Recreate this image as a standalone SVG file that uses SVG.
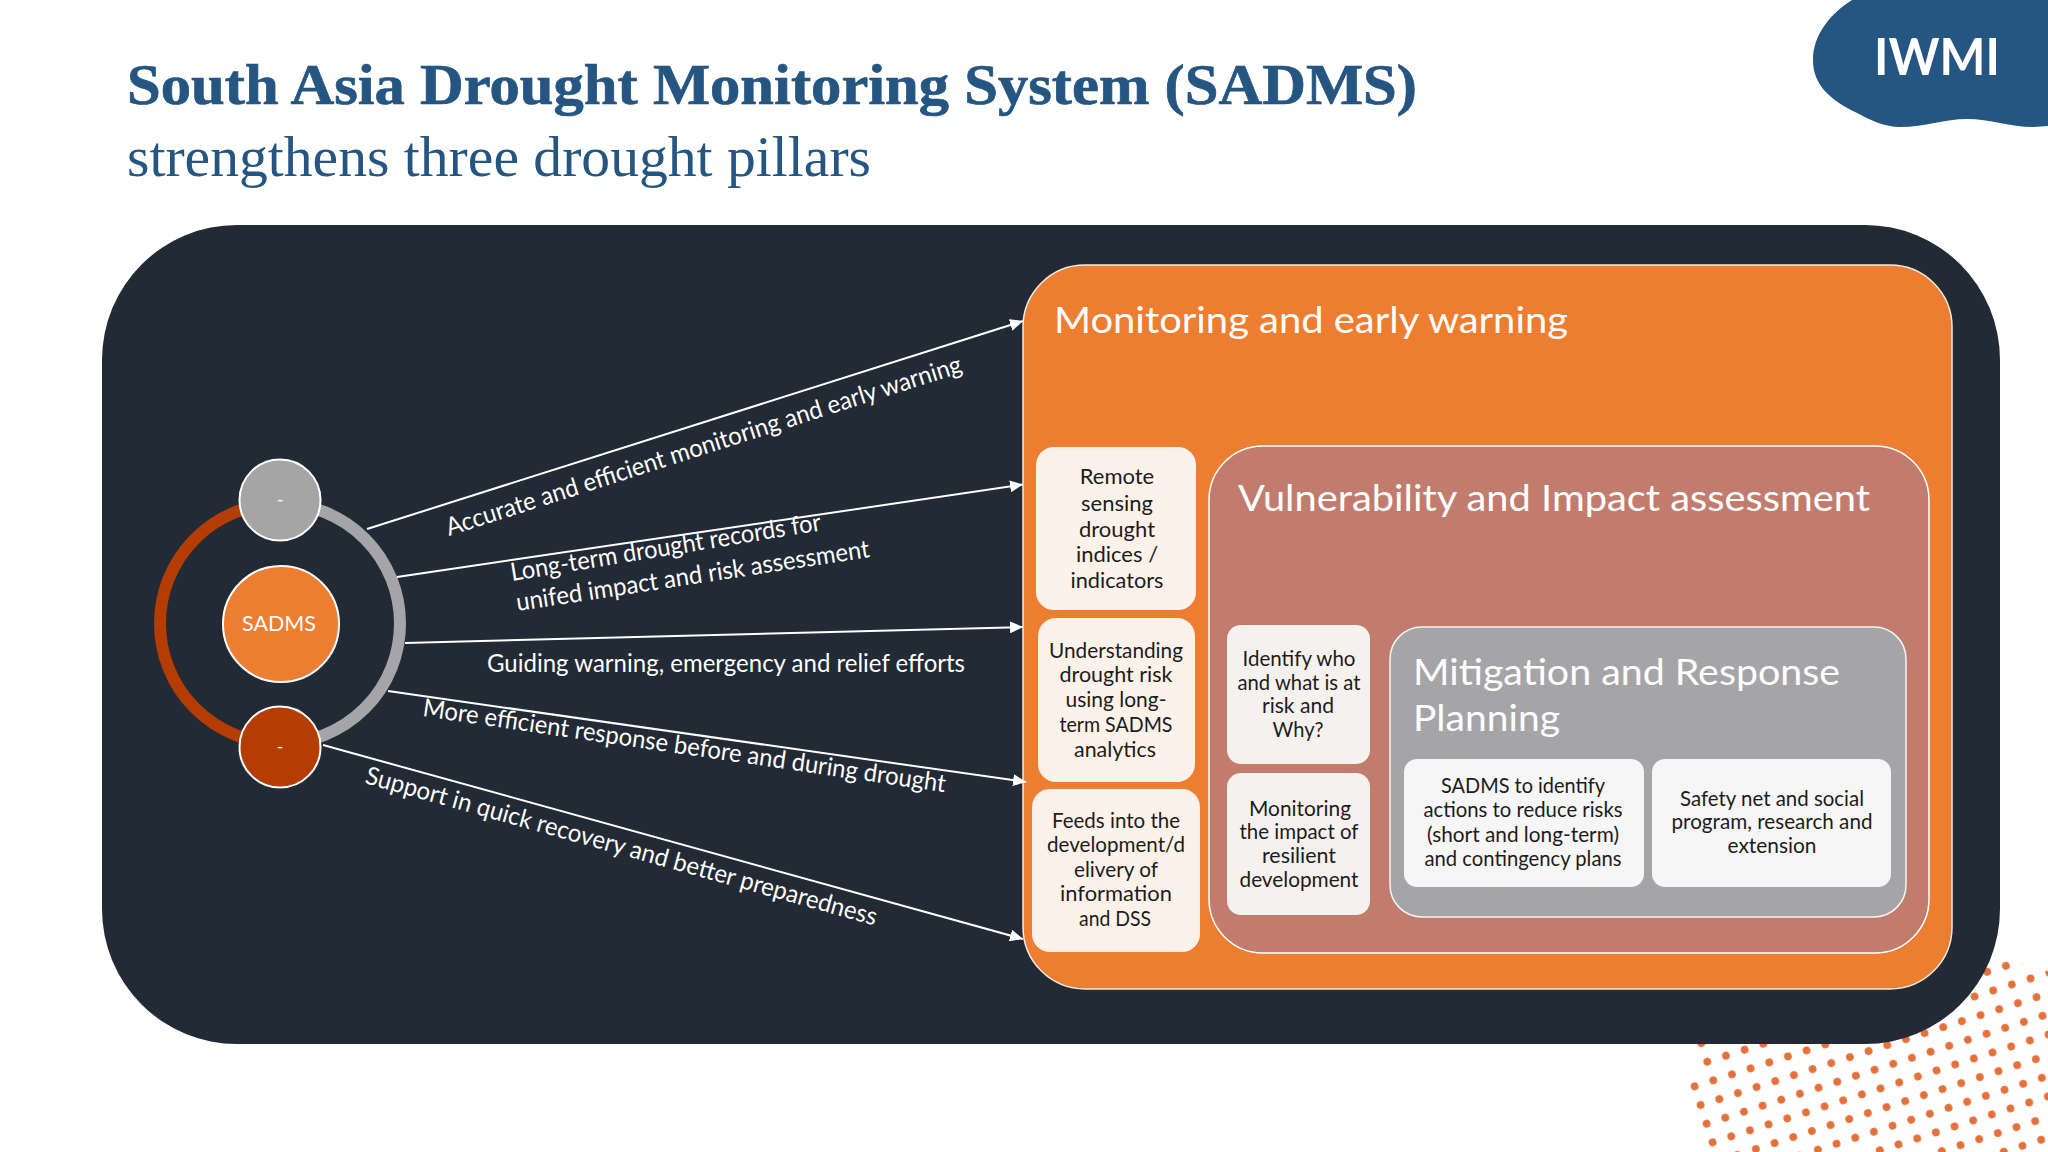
<svg xmlns="http://www.w3.org/2000/svg" width="2048" height="1152" viewBox="0 0 2048 1152">
<style>
text{font-family:Lato,"Liberation Sans",sans-serif}
.w{fill:#fff}
.h{fill:#fff;font-size:37px}
.l{fill:#fff;font-size:25px}
.s{fill:#1c1c1c;font-size:22px;text-anchor:middle}
.t{font-family:"Liberation Serif",serif;fill:#255581}
.box{fill:#fcf2ea}
.box2{fill:#f5f1ef}
.box3{fill:#f6f6f6}
.c{stroke:#fff;stroke-width:2}
.cn{stroke:#fff;stroke-width:2;fill:none;marker-end:url(#ah)}
</style>
<defs>
<marker id="ah" markerUnits="userSpaceOnUse" markerWidth="14" markerHeight="12" refX="13" refY="6" orient="auto"><path d="M0 0L13 6L0 12Z" fill="#fff"/></marker>
<pattern id="dots" patternUnits="userSpaceOnUse" width="19.6" height="19.6" patternTransform="translate(1707.3 1061.7) rotate(-17.8) translate(-9.8 -9.8)"><circle cx="9.8" cy="9.8" r="3.9" fill="#e4703a"/></pattern>
</defs>
<rect width="2048" height="1152" fill="#fff"/>
<path id="dot-field" d="M1696 1040L1990 945L2000 953.5L2012 957L2030 968L2048 971V1152H1705L1700 1135L1692 1110L1687 1092L1687 1080L1697 1066Z" fill="url(#dots)"/>
<g id="logo">
<path d="M1852 0C1830 14 1813 35 1813 60C1813 85 1830 100 1857 113C1870 120 1885 127 1900 127C1925 127 1945 119 1967 119C1990 119 2010 127 2033 127L2048 126V0Z" fill="#255581"/>
<text x="1874" y="75" class="w" style="font-weight:700;font-size:52px" textLength="126" lengthAdjust="spacingAndGlyphs">IWMI</text>
</g>
<g id="title">
<text x="127" y="104" class="t" style="font-weight:700;font-size:58px;stroke:#255581;stroke-width:.7" textLength="1290" lengthAdjust="spacingAndGlyphs">South Asia Drought Monitoring System (SADMS)</text>
<text x="127" y="176" class="t" style="font-size:58px" textLength="744" lengthAdjust="spacingAndGlyphs">strengthens three drought pillars</text>
</g>
<rect id="panel" x="102" y="225" width="1898" height="819" rx="135" fill="#222a35"/>
<g id="sadms-hub">
<path d="M280 503.5A120 120 0 0 1 280 743.5" fill="none" stroke="#a5a5a7" stroke-width="12"/>
<path d="M280 503.5A120 120 0 0 0 280 743.5" fill="none" stroke="#b53c03" stroke-width="12"/>
<g id="node-top"><circle class="c" cx="280" cy="500" r="40.5" fill="#a5a5a5"/><text x="280" y="506" class="w" style="font-size:18px;text-anchor:middle">-</text></g>
<g id="node-bottom"><circle class="c" cx="280" cy="747" r="40.5" fill="#b53c03"/><text x="280" y="753" class="w" style="font-size:18px;text-anchor:middle">-</text></g>
<g id="node-sadms"><circle class="c" cx="281" cy="624" r="58" fill="#ed7d31"/><text x="279" y="631" class="w" style="font-size:22px;text-anchor:middle" textLength="74" lengthAdjust="spacingAndGlyphs">SADMS</text></g>
</g>
<g id="pillar-monitoring">
<rect x="1023" y="265" width="929" height="724" rx="62" fill="#ed7d31" stroke="#f7ebe0" stroke-width="1.5"/>
<text x="1054" y="333" class="h" textLength="514" lengthAdjust="spacingAndGlyphs">Monitoring and early warning</text>
<g id="box-remote"><rect class="box" x="1036" y="447" width="160" height="163" rx="18"/>
<text x="1117" y="484" class="s">Remote</text><text x="1117" y="511" class="s">sensing</text><text x="1117" y="537" class="s">drought</text><text x="1117" y="562" class="s">indices /</text><text x="1117" y="588" class="s" textLength="93" lengthAdjust="spacingAndGlyphs">indicators</text></g>
<g id="box-understanding"><rect class="box" x="1038" y="618" width="157" height="164" rx="18"/>
<text x="1116" y="658" class="s" textLength="134" lengthAdjust="spacingAndGlyphs">Understanding</text><text x="1116" y="682" class="s" textLength="113" lengthAdjust="spacingAndGlyphs">drought risk</text><text x="1116" y="707" class="s" textLength="101" lengthAdjust="spacingAndGlyphs">using long-</text><text x="1116" y="732" class="s" textLength="113" lengthAdjust="spacingAndGlyphs">term SADMS</text><text x="1115" y="757" class="s" textLength="82" lengthAdjust="spacingAndGlyphs">analytics</text></g>
<g id="box-feeds"><rect class="box" x="1032" y="789" width="168" height="163" rx="18"/>
<text x="1116" y="828" class="s" textLength="128" lengthAdjust="spacingAndGlyphs">Feeds into the</text><text x="1116" y="852" class="s" textLength="138" lengthAdjust="spacingAndGlyphs">development/d</text><text x="1116" y="877" class="s" textLength="84" lengthAdjust="spacingAndGlyphs">elivery of</text><text x="1116" y="901" class="s" textLength="112" lengthAdjust="spacingAndGlyphs">information</text><text x="1115" y="926" class="s" textLength="72" lengthAdjust="spacingAndGlyphs">and DSS</text></g>
</g>
<g id="pillar-vulnerability">
<rect x="1209" y="446" width="720" height="507" rx="54" fill="#c27c6d" stroke="#fff" stroke-width="1.5"/>
<text x="1238" y="511" class="h" textLength="632" lengthAdjust="spacingAndGlyphs">Vulnerability and Impact assessment</text>
<g id="box-identify"><rect class="box2" x="1227" y="625" width="143" height="139" rx="14"/>
<text x="1299" y="666" class="s" textLength="113" lengthAdjust="spacingAndGlyphs">Identify who</text><text x="1299" y="690" class="s" textLength="123" lengthAdjust="spacingAndGlyphs">and what is at</text><text x="1298" y="713" class="s" textLength="72" lengthAdjust="spacingAndGlyphs">risk and</text><text x="1298" y="737" class="s" textLength="51" lengthAdjust="spacingAndGlyphs">Why?</text></g>
<g id="box-impact"><rect class="box2" x="1227" y="773" width="143" height="142" rx="14"/>
<text x="1300" y="816" class="s" textLength="102" lengthAdjust="spacingAndGlyphs">Monitoring</text><text x="1299" y="839" class="s" textLength="119" lengthAdjust="spacingAndGlyphs">the impact of</text><text x="1299" y="863" class="s" textLength="74" lengthAdjust="spacingAndGlyphs">resilient</text><text x="1299" y="887" class="s" textLength="119" lengthAdjust="spacingAndGlyphs">development</text></g>
</g>
<g id="pillar-mitigation">
<rect x="1390" y="627" width="516" height="290" rx="32" fill="#a5a5a7" stroke="#f4f4f4" stroke-width="1.5"/>
<text x="1413" y="685" class="h" textLength="427" lengthAdjust="spacingAndGlyphs">Mitigation and Response</text>
<text x="1413" y="731" class="h" textLength="147" lengthAdjust="spacingAndGlyphs">Planning</text>
<g id="box-actions"><rect class="box3" x="1404" y="759" width="240" height="128" rx="13"/>
<text x="1523" y="793" class="s" textLength="164" lengthAdjust="spacingAndGlyphs">SADMS to identify</text><text x="1523" y="817" class="s" textLength="199" lengthAdjust="spacingAndGlyphs">actions to reduce risks</text><text x="1523" y="842" class="s" textLength="192" lengthAdjust="spacingAndGlyphs">(short and long-term)</text><text x="1523" y="866" class="s" textLength="197" lengthAdjust="spacingAndGlyphs">and contingency plans</text></g>
<g id="box-safety"><rect class="box3" x="1652" y="759" width="239" height="128" rx="13"/>
<text x="1772" y="806" class="s" textLength="184" lengthAdjust="spacingAndGlyphs">Safety net and social</text><text x="1772" y="829" class="s" textLength="201" lengthAdjust="spacingAndGlyphs">program, research and</text><text x="1772" y="853" class="s" textLength="89" lengthAdjust="spacingAndGlyphs">extension</text></g>
</g>
<g id="connectors">
<path class="cn" d="M367 529L1023 321"/>
<path class="cn" d="M397 577L1023 484.5"/>
<path class="cn" d="M405 643L1023 627"/>
<path class="cn" d="M388 691L1026 782"/>
<path class="cn" d="M323 745L1023 939"/>
</g>
<g id="connector-labels">
<text class="l" transform="translate(449 536) rotate(-17.7)" textLength="540" lengthAdjust="spacingAndGlyphs">Accurate and efficient monitoring and early warning</text>
<text class="l" transform="translate(512 581) rotate(-9.3)" textLength="314" lengthAdjust="spacingAndGlyphs">Long-term drought records for</text>
<text class="l" transform="translate(517.5 611) rotate(-8.7)" textLength="357" lengthAdjust="spacingAndGlyphs">unifed impact and  risk assessment</text>
<text class="l" x="487" y="672" textLength="478" lengthAdjust="spacingAndGlyphs">Guiding warning, emergency and relief efforts</text>
<text class="l" transform="translate(422 716) rotate(8.3)" textLength="528" lengthAdjust="spacingAndGlyphs">More  efficient response before and during drought</text>
<text class="l" transform="translate(364 783) rotate(15.6)" textLength="530" lengthAdjust="spacingAndGlyphs">Support in quick recovery and better preparedness</text>
</g>
</svg>
